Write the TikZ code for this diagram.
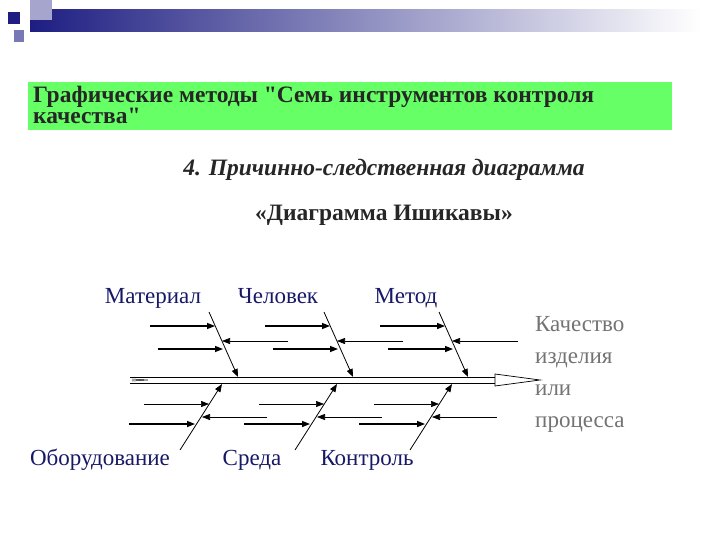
\documentclass[tikz,border=0pt]{standalone}
\usepackage{fontspec}
\setmainfont{Liberation Serif}[Ligatures=TeXOff]
\usetikzlibrary{arrows.meta}
\definecolor{dkblue}{RGB}{30,30,130}
\definecolor{hdgreen}{RGB}{102,255,102}
\begin{document}
\begin{tikzpicture}[x=1pt,y=1pt,
  lbl/.style={font=\fontsize{23}{26}\selectfont,text=dkblue!80!black,anchor=base},
  bold arr/.style={line width=1.4pt,-{Triangle[length=8pt,width=6pt]}},
  fine arr/.style={line width=0.6pt,-{Triangle[length=8pt,width=6pt]}},
  bone/.style={line width=0.8pt,-{Triangle[length=8pt,width=6pt]}}]
\useasboundingbox (0,0) rectangle (720,-540);
\fill[white] (0,0) rectangle (720,-540);
% decoration
\shade[left color=dkblue,right color=white] (30,-10) rectangle (700,-32);
\fill[dkblue!40] (30,0) rectangle (52,-20);
\fill[dkblue!60] (14,-30) rectangle (24,-42);
\fill[dkblue] (8,-12) rectangle (20,-24);
% header
\node[fill=hdgreen,minimum width=644pt,minimum height=48pt,anchor=north west,inner sep=0pt] (hdr) at (28,-82) {};
\node[anchor=north west,align=left,inner sep=0pt,font=\bfseries\fontsize{23.5}{21}\selectfont,text=black!85] (hdrt) at (33,-86) {Графические методы "Семь инструментов контроля\\качества"};
\node[font=\bfseries\itshape\fontsize{23.5}{26}\selectfont,text=black!85] (t1) at (384,-170) {4. Причинно-следственная диаграмма};
\node[font=\bfseries\fontsize{23.5}{26}\selectfont,text=black!85] (t2) at (384,-215) {«Диаграмма Ишикавы»};
% spine
\draw[line width=0.7pt] (130,-377) -- (495,-377) (130,-383) -- (495,-383);
\coordinate (hb) at (495,-380);
\coordinate (ht) at (540,-380);
\draw[line width=0.7pt,fill=white] ([yshift=-6pt]hb) -- (ht) -- ([yshift=6pt]hb) -- cycle;
\draw[line width=0.5pt] (132,-379) -- (148,-380) -- (132,-381);
% bones
\foreach \i/\dx in {1/0,2/115,3/230}{
  \coordinate (ta\i) at (209+\dx,-312); \coordinate (tb\i) at (238+\dx,-377);
  \draw[bone] (ta\i) -- (tb\i);
  \coordinate (p\i a) at (150+\dx,-326); \coordinate (p\i b) at (215+\dx,-326);
  \draw[bold arr] (p\i a) -- (p\i b);
  \coordinate (q\i a) at (288+\dx,-341); \coordinate (q\i b) at (222+\dx,-341);
  \draw[fine arr] (q\i a) -- (q\i b);
  \coordinate (r\i a) at (158+\dx,-349); \coordinate (r\i b) at (223+\dx,-349);
  \draw[bold arr] (r\i a) -- (r\i b);
  \coordinate (ba\i) at (180+\dx,-450); \coordinate (bb\i) at (222+\dx,-384);
  \draw[bone] (ba\i) -- (bb\i);
  \coordinate (u\i a) at (144+\dx,-404); \coordinate (u\i b) at (209+\dx,-404);
  \draw[fine arr] (u\i a) -- (u\i b);
  \coordinate (v\i a) at (267+\dx,-417); \coordinate (v\i b) at (202+\dx,-417);
  \draw[fine arr] (v\i a) -- (v\i b);
  \coordinate (w\i a) at (129+\dx,-424); \coordinate (w\i b) at (195+\dx,-424);
  \draw[bold arr] (w\i a) -- (w\i b);
}
\node[lbl] (m1) at (153,-303) {Материал};
\node[lbl] (m2) at (278,-303) {Человек};
\node[lbl] (m3) at (406,-303) {Метод};
\node[lbl] (m4) at (100,-465) {Оборудование};
\node[lbl] (m5) at (252,-465) {Среда};
\node[lbl] (m6) at (367,-465) {Контроль};
\node[anchor=north west,align=left,inner sep=0pt,font=\fontsize{23}{32}\selectfont,text=black!55] (res) at (535,-316) {Качество\\изделия\\или\\процесса};
\end{tikzpicture}
\end{document}
